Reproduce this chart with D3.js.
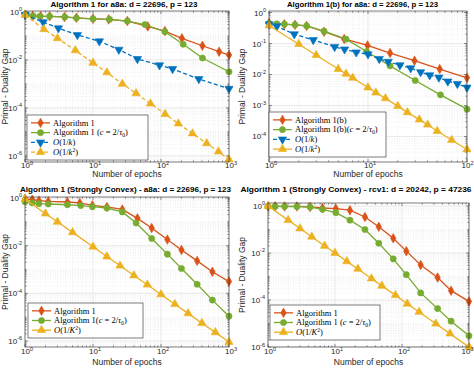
<!DOCTYPE html>
<html><head><meta charset="utf-8">
<script src="https://cdn.jsdelivr.net/npm/d3@7/dist/d3.min.js"></script>
<style>body{margin:0;background:#fff}svg{display:block}</style>
</head><body>
<svg id="c" width="474" height="371"></svg>
<script>
// ---------- DATA ----------
const titles = [
  "Algorithm 1 for a8a: d = 22696, p = 123",
  "Algorithm 1(b) for a8a: d = 22696, p = 123",
  "Algorithm 1 (Strongly Convex) - a8a: d = 22696, p = 123",
  "Algorithm 1 (Strongly Convex) - rcv1: d = 20242, p = 47236"
];
const xLabel = "Number of epochs";
const yLabel = "Primal - Duality Gap";

// Panel 1 (top-left)
const p1OrangeX = [1, 1.3, 1.7, 2.3, 3.8, 5.7, 10, 17, 32, 64, 114, 203, 407, 716, 1000];
const p1OrangeY = [0.78, 0.70, 0.67, 0.66, 0.62, 0.57, 0.52, 0.49, 0.42, 0.25, 0.16, 0.08, 0.039, 0.022, 0.016];
const p1GreenX = [1, 1.06, 1.32, 1.66, 2.3, 3.85, 5.7, 10, 17.5, 32, 58, 114, 212, 407, 1000];
const p1GreenY = [0.78, 0.77, 0.68, 0.66, 0.66, 0.62, 0.56, 0.52, 0.49, 0.42, 0.30, 0.15, 0.045, 0.012, 0.0032];
const p1BlueX = [1, 1.85, 3.1, 5.9, 12.4, 24, 45, 95, 148, 360, 1000];
const p1BlueY = [0.77, 0.38, 0.21, 0.11, 0.06, 0.027, 0.011, 0.006, 0.0042, 0.0016, 0.00063];
const p1YellowX = [1, 1.9, 3, 5.5, 10, 16, 27, 43, 70, 115, 180, 290, 470, 700, 1000];
const p1YellowY = [0.75, 0.19, 0.08, 0.025, 0.0075, 0.003, 0.001, 0.0004, 0.00015, 5.5e-5, 2.2e-5, 8.5e-6, 3.3e-6, 1.5e-6, 7e-7];

// Panel 2 (top-right)
const p2OrangeX = [1, 1.43, 1.83, 2.4, 3.6, 5.75, 9.9, 16.7, 29.5, 53, 100];
const p2OrangeY = [0.45, 0.42, 0.40, 0.37, 0.24, 0.14, 0.087, 0.049, 0.028, 0.015, 0.0078];
const p2GreenX = [1, 1.2, 1.43, 1.83, 2.4, 3.6, 6, 9.7, 16.7, 30, 54, 100];
const p2GreenY = [0.45, 0.43, 0.42, 0.40, 0.37, 0.25, 0.138, 0.055, 0.019, 0.0064, 0.0022, 0.00076];
const p2BlueX = [1, 1.2, 1.8, 2.8, 4.6, 5.8, 7.6, 10, 13, 16, 21, 27, 34, 42, 52, 64, 80, 100];
const p2BlueY = [0.42, 0.36, 0.20, 0.13, 0.078, 0.065, 0.052, 0.045, 0.032, 0.026, 0.02, 0.016, 0.012, 0.0095, 0.008, 0.006, 0.005, 0.0038];
const p2YellowX = [1, 2, 3, 5, 6, 7, 10, 12, 15, 20, 25, 33, 40, 50, 70, 100];
const p2YellowY = [0.38, 0.095, 0.042, 0.015, 0.0105, 0.0078, 0.0038, 0.0026, 0.0017, 0.00095, 0.0006, 0.00035, 0.00024, 0.00015, 7.7e-5, 3.8e-5];

// Panel 3 (bottom-left)
const p3OrangeX = [1, 1.28, 1.6, 2.2, 4.2, 6.4, 9.8, 16, 27, 45, 73, 124, 200, 340, 570, 1000];
const p3OrangeY = [0.93, 0.85, 0.77, 0.72, 0.68, 0.62, 0.49, 0.42, 0.33, 0.14, 0.055, 0.018, 0.0066, 0.0023, 0.0008, 0.00031];
const p3GreenX = [1, 1.28, 1.6, 2.2, 4.2, 6.6, 9.8, 16, 27, 43, 73, 124, 200, 340, 570, 1000];
const p3GreenY = [0.70, 0.62, 0.58, 0.56, 0.52, 0.48, 0.43, 0.38, 0.26, 0.089, 0.02, 0.0044, 0.0011, 0.00024, 5.2e-5, 1.1e-5];
const p3YellowX = [1, 2, 3, 5, 10, 16, 25, 40, 63, 100, 160, 250, 400, 630, 1000];
const p3YellowY = [0.9, 0.22, 0.1, 0.036, 0.009, 0.0035, 0.00144, 0.00056, 0.00023, 9e-5, 3.5e-5, 1.44e-5, 5.6e-6, 2.3e-6, 9e-7];

// Panel 4 (bottom-right)
const p4OrangeX = [1, 1.28, 1.77, 2.7, 4.25, 6.5, 10.3, 16.7, 28, 45, 74, 116, 190, 340, 540, 1000];
const p4OrangeY = [0.97, 0.97, 0.96, 0.96, 0.91, 0.82, 0.77, 0.66, 0.34, 0.13, 0.042, 0.012, 0.0031, 0.0009, 0.00025, 8.7e-5];
const p4GreenX = [1, 1.28, 1.77, 2.7, 4.25, 6.5, 10.3, 16.7, 28, 45, 74, 116, 190, 340, 540, 1000];
const p4GreenY = [0.97, 0.96, 0.95, 0.94, 0.90, 0.72, 0.52, 0.25, 0.10, 0.026, 0.0056, 0.0012, 0.0002, 4.3e-5, 1.26e-5, 3e-6];
const p4YellowX = [1, 2, 3, 4.5, 7, 10, 15, 22, 35, 50, 80, 120, 180, 320, 520, 1000];
const p4YellowY = [1, 0.25, 0.11, 0.049, 0.02, 0.01, 0.0044, 0.0021, 0.00082, 0.0004, 0.00016, 6.9e-5, 3.1e-5, 9.8e-6, 3.7e-6, 1e-6];

const p1XTicks = [1, 10, 100, 1000];
const p1YTicks = [1, 1e-2, 1e-4, 1e-6];
const p2XTicks = [1, 10, 100];
const p2YTicks = [1, 1e-1, 1e-2, 1e-3, 1e-4];
const p3XTicks = [1, 10, 100, 1000];
const p3YTicks = [1, 1e-2, 1e-4, 1e-6];
const p4XTicks = [1, 10, 100, 1000];
const p4YTicks = [1, 1e-2, 1e-4, 1e-6];

// legend labels: segments [text, style]  n=normal i=italic sub sup
const legAlg1 = [["Algorithm 1","n"]];
const legAlg1c = [["Algorithm 1 (","n"],["c","i"],[" = 2/","n"],["τ","i"],["0","sub"],[")","n"]];
const legAlg1cNoSp = [["Algorithm 1(","n"],["c","i"],[" = 2/","n"],["τ","i"],["0","sub"],[")","n"]];
const legAlg1b = [["Algorithm 1(b)","n"]];
const legAlg1bc = [["Algorithm 1(b)(","n"],["c","i"],[" = 2/","n"],["τ","i"],["0","sub"],[")","n"]];
const legOk = [["O","i"],["(1/","n"],["k","i"],[")","n"]];
const legOk2 = [["O","i"],["(1/","n"],["k","i"],["2","sup"],[")","n"]];
const legOK2 = [["O","i"],["(1/","n"],["K","i"],["2","sup"],[")","n"]];

// ---------- STYLE ----------
const C = {orange:"#D95319", green:"#77AC30", blue:"#0072BD", yellow:"#EDB120"};
const AX = "#262626";
const svg = d3.select("#c");
const W = 474;

function zip(xs, ys){ return xs.map((x,i)=>[x, ys[i]]); }

const panels = [
  { box:[25,229,11,162], xd:[1,1000], yd:[5.5e-7,1.1], xt:p1XTicks, yt:p1YTicks, title:titles[0], tx:124, tw:147, ty:7, ylx:8, xly:177, xty:168,
    leg:[27,115,121,45],
    series:[
      {d:zip(p1OrangeX,p1OrangeY), c:C.orange, m:"diamond", dash:null, lab:legAlg1},
      {d:zip(p1GreenX,p1GreenY), c:C.green, m:"circle", dash:null, lab:legAlg1c},
      {d:zip(p1BlueX,p1BlueY), c:C.blue, m:"down", dash:"4,2.5", lab:legOk},
      {d:zip(p1YellowX,p1YellowY), c:C.yellow, m:"up", dash:"4,2.5", lab:legOk2}
    ]},
  { box:[269,467,11,162], xd:[1,100], yd:[1.5e-5,1.12], xt:p2XTicks, yt:p2YTicks, title:titles[1], tx:362.5, tw:151, ty:7, ylx:245, xly:177, xty:168,
    leg:[269,112,117,45],
    series:[
      {d:zip(p2OrangeX,p2OrangeY), c:C.orange, m:"diamond", dash:null, lab:legAlg1b},
      {d:zip(p2GreenX,p2GreenY), c:C.green, m:"circle", dash:null, lab:legAlg1bc},
      {d:zip(p2BlueX,p2BlueY), c:C.blue, m:"down", dash:"4,2.5", lab:legOk},
      {d:zip(p2YellowX,p2YellowY), c:C.yellow, m:"up", dash:null, lab:legOk2}
    ]},
  { box:[25,229,197,347], xd:[1,1000], yd:[5.6e-7,1.1], xt:p3XTicks, yt:p3YTicks, title:titles[2], tx:125.5, tw:211, ty:192, ylx:8, xly:365, xty:354,
    leg:[28,303,115,35],
    series:[
      {d:zip(p3OrangeX,p3OrangeY), c:C.orange, m:"diamond", dash:null, lab:legAlg1},
      {d:zip(p3GreenX,p3GreenY), c:C.green, m:"circle", dash:null, lab:legAlg1cNoSp},
      {d:zip(p3YellowX,p3YellowY), c:C.yellow, m:"up", dash:null, lab:legOK2}
    ]},
  { box:[268,469,203,347], xd:[1,1000], yd:[1e-6,1.34], xt:p4XTicks, yt:p4YTicks, title:titles[3], tx:356, tw:231, ty:192, ylx:245, xly:365, xty:354,
    leg:[270,305,110,35],
    series:[
      {d:zip(p4OrangeX,p4OrangeY), c:C.orange, m:"diamond", dash:null, lab:legAlg1},
      {d:zip(p4GreenX,p4GreenY), c:C.green, m:"circle", dash:null, lab:legAlg1c},
      {d:zip(p4YellowX,p4YellowY), c:C.yellow, m:"up", dash:null, lab:legOK2}
    ]}
];

function marker(g, type, x, y, color){
  let sym, size, rot = 0;
  if (type==="diamond"){ sym=d3.symbolDiamond; size=26; }
  else if (type==="circle"){ sym=d3.symbolCircle; size=30; }
  else if (type==="up"){ sym=d3.symbolTriangle; size=30; }
  else { sym=d3.symbolTriangle; size=30; rot=180; }
  g.append("path").attr("d", d3.symbol().type(sym).size(size)())
    .attr("transform", `translate(${x},${y}) rotate(${rot})`)
    .attr("fill", color).attr("stroke", color).attr("stroke-width", 0.6);
}

function powLabel(sel, v){
  const e = Math.round(Math.log10(v));
  sel.append("tspan").text("10");
  sel.append("tspan").attr("dy", -3.5).attr("font-size", 5.5).text(String(e));
}

function richText(t, segs, size){
  let shift = 0;
  segs.forEach(([s, st])=>{
    const ts = t.append("tspan").text(s);
    let target = 0;
    if (st==="i") ts.attr("font-style","italic");
    if (st==="sub"){ ts.attr("font-size", size*0.65); target = 1.5; }
    if (st==="sup"){ ts.attr("font-size", size*0.65); target = -3; }
    if (target !== shift){ ts.attr("dy", target - shift); shift = target; }
  });
}

panels.forEach((p, pi)=>{
  const [L,R,T,B] = p.box;
  const x = d3.scaleLog().domain(p.xd).range([L,R]);
  const y = d3.scaleLog().domain(p.yd).range([B,T]);
  const g = svg.append("g");
  g.append("rect").attr("x",L).attr("y",T).attr("width",R-L).attr("height",B-T).attr("fill","#fff");

  const xAll = x.ticks(30).filter(v=>v>=p.xd[0]&&v<=p.xd[1]);
  const yAll = y.ticks(60).filter(v=>v>=p.yd[0]&&v<=p.yd[1]);
  const isMajX = v => p.xt.some(t=>Math.abs(t-v)/t<1e-6);
  const isMajY = v => p.yt.some(t=>Math.abs(t-v)/t<1e-6);
  const grid = g.append("g");
  xAll.filter(v=>!isMajX(v)).forEach(v=>{
    grid.append("line").attr("x1",x(v)).attr("x2",x(v)).attr("y1",T).attr("y2",B)
      .attr("stroke","#e3e3e3").attr("stroke-width",0.5).attr("stroke-dasharray","1,1.5");
  });
  yAll.filter(v=>!isMajY(v)).forEach(v=>{
    grid.append("line").attr("y1",y(v)).attr("y2",y(v)).attr("x1",L).attr("x2",R)
      .attr("stroke","#e3e3e3").attr("stroke-width",0.5).attr("stroke-dasharray","1,1.5");
  });
  p.xt.forEach(v=>{
    grid.append("line").attr("x1",x(v)).attr("x2",x(v)).attr("y1",T).attr("y2",B)
      .attr("stroke","#dcdcdc").attr("stroke-width",0.6);
  });
  p.yt.forEach(v=>{
    grid.append("line").attr("y1",y(v)).attr("y2",y(v)).attr("x1",L).attr("x2",R)
      .attr("stroke","#dcdcdc").attr("stroke-width",0.6);
  });

  const tk = g.append("g").attr("stroke",AX).attr("stroke-width",0.5);
  xAll.forEach(v=>{
    const len = isMajX(v)?3:1.6;
    tk.append("line").attr("x1",x(v)).attr("x2",x(v)).attr("y1",B).attr("y2",B-len);
    tk.append("line").attr("x1",x(v)).attr("x2",x(v)).attr("y1",T).attr("y2",T+len);
  });
  yAll.forEach(v=>{
    const len = isMajY(v)?3:1.6;
    tk.append("line").attr("y1",y(v)).attr("y2",y(v)).attr("x1",L).attr("x2",L+len);
    tk.append("line").attr("y1",y(v)).attr("y2",y(v)).attr("x1",R).attr("x2",R-len);
  });

  const clipId = "clip"+pi;
  svg.append("clipPath").attr("id",clipId).append("rect").attr("x",L-4).attr("y",T-4).attr("width",R-L+8).attr("height",B-T+8);
  const sg = g.append("g").attr("clip-path",`url(#${clipId})`);
  const line = d3.line().x(d=>x(d[0])).y(d=>y(d[1]));
  p.series.forEach(s=>{
    sg.append("path").attr("d", line(s.d)).attr("fill","none").attr("stroke",s.c)
      .attr("stroke-width",1.3).attr("stroke-dasharray", s.dash);
    s.d.forEach(d=>marker(sg, s.m, x(d[0]), y(d[1]), s.c));
  });

  g.append("rect").attr("x",L).attr("y",T).attr("width",R-L).attr("height",B-T)
    .attr("fill","none").attr("stroke",AX).attr("stroke-width",0.6);

  p.xt.forEach(v=>{
    const t = g.append("text").attr("x",x(v)+2).attr("y",p.xty).attr("text-anchor","middle")
      .attr("font-family","Liberation Sans, Arial, sans-serif").attr("font-size",8).attr("fill",AX);
    powLabel(t, v);
    const w = t.node().getComputedTextLength();
    if (x(v)+2+w/2 > W-0.5) t.attr("x", W-0.5-w/2);
  });
  p.yt.forEach(v=>{
    const t = g.append("text").attr("x",L-3).attr("y",y(v)+3).attr("text-anchor","end")
      .attr("font-family","Liberation Sans, Arial, sans-serif").attr("font-size",8).attr("fill",AX);
    powLabel(t, v);
  });

  g.append("text").attr("x",(L+R)/2).attr("y",p.xly).attr("text-anchor","middle")
    .attr("font-family","Liberation Sans, Arial, sans-serif").attr("font-size",8.5).attr("fill",AX).text(xLabel);
  g.append("text").attr("transform",`translate(${p.ylx},${(T+B)/2}) rotate(-90)`).attr("text-anchor","middle")
    .attr("font-family","Liberation Sans, Arial, sans-serif").attr("font-size",8.5).attr("fill",AX).text(yLabel);

  g.append("text").attr("x",p.tx).attr("y",p.ty).attr("text-anchor","middle")
    .attr("font-family","Liberation Sans, Arial, sans-serif").attr("font-weight","bold").attr("font-size",8)
    .attr("textLength",p.tw).attr("lengthAdjust","spacingAndGlyphs").attr("fill","#000").text(p.title);

  const [lx,ly,lw,lh] = p.leg;
  const lg = g.append("g");
  lg.append("rect").attr("x",lx).attr("y",ly).attr("width",lw).attr("height",lh)
    .attr("fill","#fff").attr("stroke",AX).attr("stroke-width",0.6);
  const n = p.series.length;
  const step = (lh-6)/n;
  p.series.forEach((s,i)=>{
    const yy = ly + 3 + step*(i+0.5);
    lg.append("line").attr("x1",lx+4).attr("x2",lx+23).attr("y1",yy).attr("y2",yy)
      .attr("stroke",s.c).attr("stroke-width",1.3).attr("stroke-dasharray",s.dash);
    marker(lg, s.m, lx+13.5, yy, s.c);
    const t = lg.append("text").attr("x",lx+26).attr("y",yy+2.8)
      .attr("font-family","Liberation Serif, Times New Roman, serif").attr("font-size",8.5).attr("fill","#000");
    richText(t, s.lab, 8.5);
  });
});
</script>
</body></html>
